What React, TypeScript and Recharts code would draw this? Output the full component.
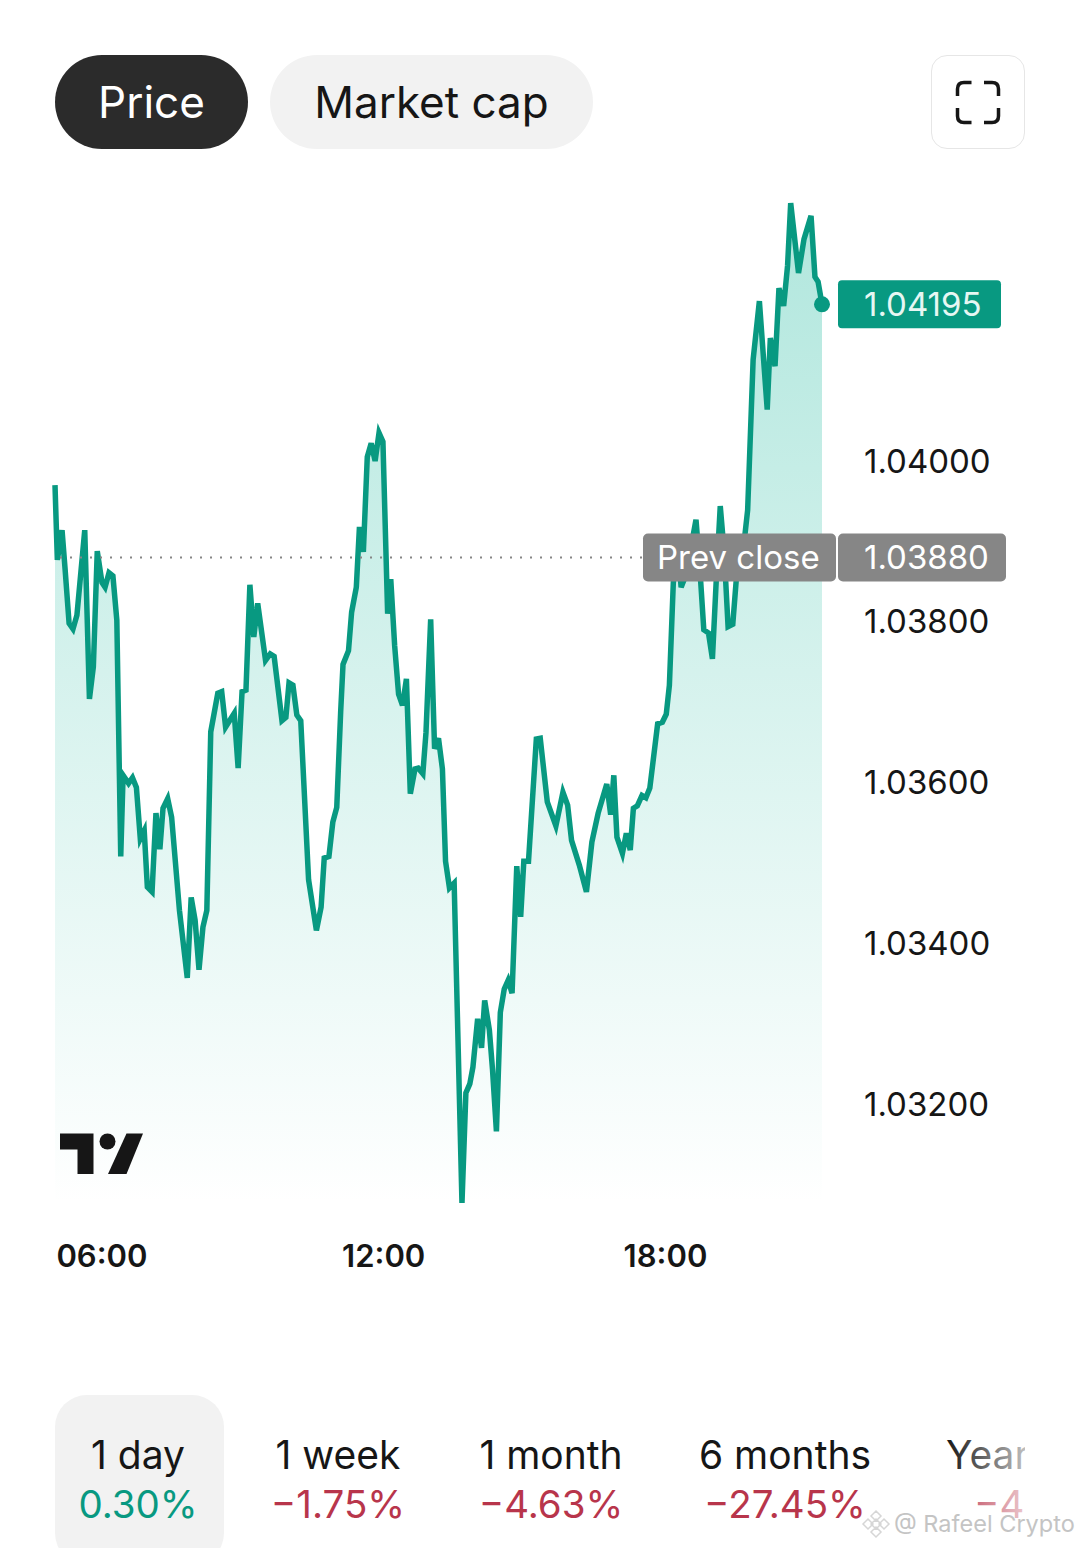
import React from 'react';
import { Area, ComposedChart, ReferenceDot, ReferenceLine, XAxis, YAxis } from 'recharts';

// minutes since midnight
const minutes = [
  300, 303, 309, 313, 318, 323, 328, 338, 344, 349, 354, 360, 364, 369, 374, 379, 384, 387, 394, 399,
  404, 409, 414, 418, 424, 429, 434, 438, 444, 449, 459, 469, 474, 479, 484, 489, 494, 499, 508, 513,
  518, 529, 534, 539, 544, 549, 554, 559, 569, 575, 580, 590, 595, 599, 604, 609, 614, 624, 634, 640,
  644, 650, 655, 660, 665, 668, 675, 679, 685, 689, 694, 699, 704, 709, 714, 719, 725, 729, 734, 739,
  744, 749, 754, 760, 764, 770, 774, 780, 785, 790, 795, 799, 804, 810, 820, 825, 830, 834, 840, 845,
  849, 855, 859, 864, 869, 874, 879, 884, 890, 895, 899, 905, 915, 920, 929, 940, 949, 955, 960, 970,
  979, 986, 994, 1005, 1010, 1014, 1018, 1025, 1030, 1035, 1039, 1044, 1050, 1055, 1060, 1070, 1076, 1081, 1085, 1090,
  1095, 1100, 1106, 1113, 1119, 1124, 1129, 1135, 1140, 1145, 1150, 1155, 1160, 1166, 1171, 1178, 1185, 1192, 1200, 1210,
  1214, 1220, 1225, 1231, 1236, 1240, 1250, 1257, 1266, 1271, 1275, 1280,
];

const prices = [
  1.0397, 1.03877, 1.03914, 1.03864, 1.03798, 1.03791, 1.03808, 1.03914, 1.03704, 1.03744, 1.03888, 1.03849, 1.03843, 1.03861, 1.03857, 1.03802, 1.03508, 1.03609, 1.03599, 1.03606,
  1.03594, 1.0353, 1.0354, 1.0347, 1.03464, 1.03562, 1.03517, 1.03568, 1.0358, 1.03557, 1.03441, 1.03357, 1.03457, 1.03429, 1.03367, 1.0342, 1.03441, 1.03663, 1.03711, 1.03713,
  1.03669, 1.03686, 1.03618, 1.03713, 1.03715, 1.03846, 1.03781, 1.03823, 1.03752, 1.0376, 1.03757, 1.03677, 1.03681, 1.03724, 1.03721, 1.03684, 1.03677, 1.03479, 1.03416, 1.03445,
  1.03506, 1.03508, 1.03551, 1.03569, 1.03688, 1.03747, 1.03764, 1.03812, 1.03843, 1.03918, 1.03887, 1.04005, 1.04022, 1.04, 1.04035, 1.04024, 1.0381, 1.03853, 1.0377, 1.0371,
  1.03696, 1.03729, 1.03586, 1.03617, 1.03618, 1.03611, 1.03662, 1.03803, 1.03642, 1.03655, 1.03617, 1.03502, 1.03469, 1.03475, 1.03077, 1.03214, 1.03225, 1.03246, 1.03306, 1.0327,
  1.03329, 1.03292, 1.03243, 1.03166, 1.03314, 1.03343, 1.03354, 1.03338, 1.03496, 1.03433, 1.03502, 1.03502, 1.03654, 1.03655, 1.03576, 1.03546, 1.03588, 1.03572, 1.03528, 1.03497,
  1.03464, 1.03526, 1.03562, 1.03598, 1.0356, 1.03609, 1.03532, 1.03512, 1.03537, 1.03516, 1.03568, 1.03571, 1.03584, 1.03581, 1.03593, 1.03673, 1.03675, 1.03685, 1.03721, 1.03848,
  1.03907, 1.03843, 1.03858, 1.03895, 1.03927, 1.03865, 1.0379, 1.03786, 1.03754, 1.03854, 1.03944, 1.03887, 1.03794, 1.03797, 1.03859, 1.03877, 1.03939, 1.04126, 1.04199, 1.04064,
  1.04153, 1.04118, 1.04215, 1.04193, 1.04243, 1.04321, 1.04234, 1.04276, 1.04305, 1.04229, 1.04223, 1.04195,
];

const priceTicks = [1.032, 1.034, 1.036, 1.038, 1.04];
const timeTicks = [360, 720, 1080];
const timeLabels = ['06:00', '12:00', '18:00'];

const prevClose = 1.0388;
const lastPrice = 1.04195;

const periods = ['1 day', '1 week', '1 month', '6 months'];
const periodChanges = ['0.30%', '−1.75%', '−4.63%', '−27.45%'];

const chartData = minutes.map((minute, i) => ({ minute, price: prices[i] }));

const GREEN = '#089981';
const FILL = '#10b598';
const RED = '#b8354b';
const GREY = '#868686';
const INK = '#161616';
const FONT = 'Inter, "Noto Sans", sans-serif';

function PrevCloseLabel(props: any) {
  const { x, y, width } = props.viewBox;
  const right = x + width;
  return (
    <g>
      <rect x={right - 179} y={y - 24} width={193} height={48} rx={5} fill={GREY} />
      <rect x={right + 16} y={y - 24} width={168} height={48} rx={5} fill={GREY} />
      <text x={right - 165} y={y + 12} fontSize={33} fill="#fff" fontFamily={FONT}>Prev close</text>
      <text x={right + 42} y={y + 12} fontSize={33} fill="#fff" fontFamily={FONT}>{prevClose.toFixed(5)}</text>
    </g>
  );
}

function LastPriceLabel(props: any) {
  const { x, y } = props.viewBox;
  const cx = x + (props.viewBox.width || 0) / 2;
  const cy = y + (props.viewBox.height || 0) / 2;
  return (
    <g>
      <rect x={cx + 16} y={cy - 24} width={163} height={48} rx={4} fill={GREEN} />
      <text x={cx + 42} y={cy + 12} fontSize={33} fill="#e6f7f3" fontFamily={FONT}>{lastPrice.toFixed(5)}</text>
    </g>
  );
}

function PriceChart() {
  return (
    <ComposedChart
      width={1080}
      height={1548}
      data={chartData}
      margin={{ top: 199.8, right: 0, bottom: 293.5, left: 55 }}
      style={{ position: 'absolute', left: 0, top: 0 }}
    >
      <defs>
        <linearGradient id="priceFill" x1="0" y1="0" x2="0" y2="1">
          <stop offset="0%" stopColor={FILL} stopOpacity={0.33} />
          <stop offset="100%" stopColor={FILL} stopOpacity={0} />
        </linearGradient>
      </defs>
      <XAxis
        dataKey="minute"
        type="number"
        domain={[300, 1280]}
        ticks={timeTicks}
        interval={0}
        height={50}
        tickLine={false}
        axisLine={false}
        tickMargin={34}
        tick={{ fontSize: 31, fontWeight: 600, fill: INK, fontFamily: FONT }}
        tickFormatter={(v) => timeLabels[timeTicks.indexOf(v)]}
      />
      <YAxis
        orientation="right"
        domain={[1.03075, 1.04325]}
        ticks={priceTicks}
        interval={0}
        width={258}
        tickLine={false}
        axisLine={false}
        tickMargin={36}
        tick={{ fontSize: 33, fill: INK, fontFamily: FONT }}
        tickFormatter={(v) => v.toFixed(5)}
      />
      <ReferenceLine y={prevClose} stroke={GREY} strokeWidth={2} strokeDasharray="2 8" />
      <Area
        dataKey="price"
        type="linear"
        stroke={GREEN}
        strokeWidth={5.5}
        fill="url(#priceFill)"
        fillOpacity={1}
        baseValue={1.03075}
        dot={false}
        activeDot={false}
        isAnimationActive={false}
      />
      <ReferenceLine y={prevClose} stroke="none" label={(p: any) => <PrevCloseLabel {...p} />} />
      <ReferenceDot
        x={1280}
        y={lastPrice}
        r={8}
        fill={GREEN}
        stroke="none"
        label={(p: any) => <LastPriceLabel {...p} />}
      />
    </ComposedChart>
  );
}

function Pill({ left, width, dark, text }: { left: number; width: number; dark?: boolean; text: string }) {
  return (
    <div
      style={{
        position: 'absolute',
        left,
        top: 55,
        width,
        height: 94,
        borderRadius: 47,
        background: dark ? '#2b2b2b' : '#f2f2f2',
        color: dark ? '#fff' : INK,
        fontSize: 44,
        lineHeight: '94px',
        textAlign: 'center',
      }}
    >
      {text}
    </div>
  );
}

function PeriodCell({ center, label, change, color }: { center: number; label: string; change: string; color: string }) {
  return (
    <>
      <div style={{ position: 'absolute', left: center - 120, width: 240, top: 1431, textAlign: 'center', fontSize: 39, lineHeight: '48px', color: INK }}>{label}</div>
      <div style={{ position: 'absolute', left: center - 120, width: 240, top: 1480, textAlign: 'center', fontSize: 38.5, lineHeight: '48px', color }}>{change}</div>
    </>
  );
}

const periodCenters = [138, 338, 551, 785];

export default function App() {
  return (
    <div style={{ position: 'absolute', left: 0, top: 0, width: 1080, height: 1548, background: '#fff', overflow: 'hidden', fontFamily: FONT }}>
      <Pill left={55} width={193} dark text="Price" />
      <Pill left={270} width={323} text="Market cap" />
      <div style={{ position: 'absolute', left: 931, top: 55, width: 92, height: 92, border: '1px solid #e6e6e6', borderRadius: 16 }}>
        <svg width={92} height={92} style={{ display: 'block' }}>
          <path
            d="M25.5 40 V33 Q25.5 26.5 32 26.5 H39.5 M52 26.5 H60 Q66.5 26.5 66.5 33 V40 M66.5 52 V60 Q66.5 66.5 60 66.5 H52 M39.5 66.5 H32 Q25.5 66.5 25.5 60 V52"
            fill="none"
            stroke={INK}
            strokeWidth={3.5}
          />
        </svg>
      </div>

      <PriceChart />

      {/* TradingView mark */}
      <svg width={90} height={50} style={{ position: 'absolute', left: 56, top: 1130 }}>
        <path d="M4 3.5 H37.5 V44 H21.5 V19.5 H4 Z" fill={INK} />
        <circle cx={51.5} cy={11.5} r={8} fill={INK} />
        <path d="M70.5 3.5 H87 L70.5 44 H52 Z" fill={INK} />
      </svg>

      <div style={{ position: 'absolute', left: 55, top: 1395, width: 169, height: 170, borderRadius: 32, background: '#f2f2f2' }} />
      {periods.map((label, i) => (
        <PeriodCell key={label} center={periodCenters[i]} label={label} change={periodChanges[i]} color={i === 0 ? GREEN : RED} />
      ))}

      {/* last tab is cut off by the scroller and fades out */}
      <div style={{ position: 'absolute', left: 900, top: 1431, width: 125, height: 100, overflow: 'hidden', fontSize: 39, lineHeight: '48px' }}>
        <div style={{ position: 'absolute', left: 46, top: 0, color: INK }}>Year</div>
        <div style={{ position: 'absolute', left: 74, top: 49, color: RED, fontSize: 38.5 }}>−4</div>
        <div style={{ position: 'absolute', left: 46, top: 0, width: 79, height: 100, background: 'linear-gradient(to right, rgba(255,255,255,0), rgba(255,255,255,0.72))' }} />
      </div>

      {/* watermark */}
      <svg width={32} height={32} style={{ position: 'absolute', left: 860, top: 1508 }}>
        <path
          d="M16 3 L21 8 L16 13 L11 8 Z M16 11 L21 16 L16 21 L11 16 Z M16 19 L21 24 L16 29 L11 24 Z M8 11 L13 16 L8 21 L3 16 Z M24 11 L29 16 L24 21 L19 16 Z"
          fill="none"
          stroke="#d6d6d6"
          strokeWidth={1.5}
        />
      </svg>
      <div style={{ position: 'absolute', left: 894, top: 1509, fontSize: 23.5, lineHeight: '30px', color: '#c4c4c4', whiteSpace: 'nowrap' }}>@ Rafeel Crypto</div>
    </div>
  );
}
